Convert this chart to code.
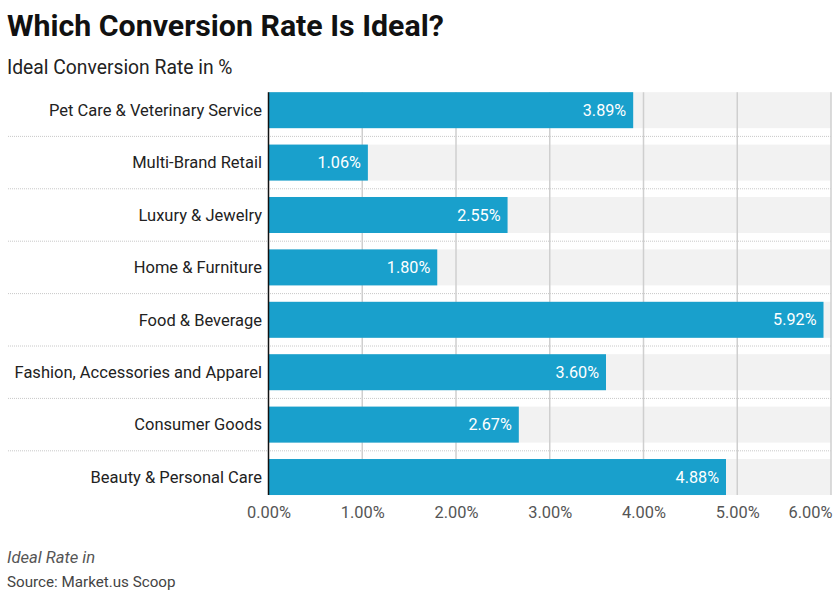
<!DOCTYPE html>
<html>
<head>
<meta charset="utf-8">
<script src="https://cdn.jsdelivr.net/npm/d3@7"></script>
<style>
  body { margin: 0; background: #fff; }
  svg { font-family: Roboto, "Noto Sans", sans-serif; }
</style>
</head>
<body>
<div id="chart"></div>
<script>
const categories = [
  "Pet Care & Veterinary Service",
  "Multi-Brand Retail",
  "Luxury & Jewelry",
  "Home & Furniture",
  "Food & Beverage",
  "Fashion, Accessories and Apparel",
  "Consumer Goods",
  "Beauty & Personal Care",
];
const rates = [3.89, 1.06, 2.55, 1.8, 5.92, 3.6, 2.67, 4.88];
const tickValues = [0, 1, 2, 3, 4, 5, 6];

const width = 840;
const height = 598;
const margin = { top: 84, right: 9, bottom: 95, left: 268.5 };

const svg = d3
  .select("#chart")
  .append("svg")
  .attr("width", width)
  .attr("height", height);

// headings
svg
  .append("text")
  .attr("x", 7)
  .attr("y", 36)
  .attr("font-size", 30.3)
  .attr("font-weight", 700)
  .attr("fill", "#111")
  .text("Which Conversion Rate Is Ideal?");

svg
  .append("text")
  .attr("x", 7)
  .attr("y", 74)
  .attr("font-size", 19.3)
  .attr("fill", "#222")
  .text("Ideal Conversion Rate in %");

const x = d3
  .scaleLinear()
  .domain([0, 6])
  .range([margin.left, width - margin.right]);

const y = d3
  .scaleBand()
  .domain(categories)
  .range([margin.top, height - margin.bottom + 0.2])
  .paddingInner(0.313)
  .paddingOuter(0.156);

const rows = categories.map((c, i) => ({ name: c, value: rates[i] }));
const plotTop = y(categories[0]);
const plotBottom = y(categories[categories.length - 1]) + y.bandwidth();
const gap = y.step() - y.bandwidth();

// gray row bands
svg
  .append("g")
  .selectAll("rect")
  .data(rows)
  .join("rect")
  .attr("x", x(0))
  .attr("y", (d) => y(d.name))
  .attr("width", x(6) - x(0))
  .attr("height", y.bandwidth())
  .attr("fill", "#f2f2f2");

// dotted row separators
svg
  .append("g")
  .selectAll("line")
  .data(rows.slice(0, -1))
  .join("line")
  .attr("x1", 8)
  .attr("x2", x(6))
  .attr("y1", (d) => y(d.name) + y.bandwidth() + gap / 2)
  .attr("y2", (d) => y(d.name) + y.bandwidth() + gap / 2)
  .attr("stroke", "#c8c8c8")
  .attr("stroke-width", 1)
  .attr("stroke-dasharray", "1,1");

// vertical gridlines
svg
  .append("g")
  .selectAll("line")
  .data(tickValues.slice(1))
  .join("line")
  .attr("x1", (d) => x(d))
  .attr("x2", (d) => x(d))
  .attr("y1", plotTop)
  .attr("y2", plotBottom)
  .attr("stroke", "#cfcfcf")
  .attr("stroke-width", 1.5);

// bars
svg
  .append("g")
  .selectAll("rect")
  .data(rows)
  .join("rect")
  .attr("x", x(0))
  .attr("y", (d) => y(d.name))
  .attr("width", (d) => x(d.value) - x(0))
  .attr("height", y.bandwidth())
  .attr("fill", "#19a0cc");

// value labels
svg
  .append("g")
  .selectAll("text")
  .data(rows)
  .join("text")
  .attr("x", (d) => x(d.value) - 7)
  .attr("y", (d) => y(d.name) + y.bandwidth() / 2)
  .attr("dy", "0.35em")
  .attr("text-anchor", "end")
  .attr("font-size", 16.2)
  .attr("fill", "#fff")
  .text((d) => d.value.toFixed(2) + "%");

// category labels
svg
  .append("g")
  .selectAll("text")
  .data(rows)
  .join("text")
  .attr("x", x(0) - 6.5)
  .attr("y", (d) => y(d.name) + y.bandwidth() / 2)
  .attr("dy", "0.35em")
  .attr("text-anchor", "end")
  .attr("font-size", 16.5)
  .attr("fill", "#222")
  .text((d) => d.name);

// axis line
svg
  .append("line")
  .attr("x1", x(0))
  .attr("x2", x(0))
  .attr("y1", plotTop)
  .attr("y2", plotBottom)
  .attr("stroke", "#111")
  .attr("stroke-width", 1.5);

// x axis
const xAxis = svg
  .append("g")
  .attr("transform", `translate(0,${plotBottom})`)
  .call(
    d3
      .axisBottom(x)
      .tickValues(tickValues)
      .tickSize(0)
      .tickPadding(11)
      .tickFormat((d) => d.toFixed(2) + "%")
  );
xAxis.select(".domain").remove();
xAxis
  .selectAll("text")
  .attr("font-family", "Roboto, sans-serif")
  .attr("font-size", 16.4)
  .attr("fill", "#555")
  .attr("text-anchor", (d) => (d === 6 ? "end" : "middle"))
  .attr("dx", (d) => (d === 6 ? 1 : 0));

// footer
svg
  .append("text")
  .attr("x", 7)
  .attr("y", 563)
  .attr("font-size", 16.6)
  .attr("font-style", "italic")
  .attr("fill", "#555")
  .text("Ideal Rate in");

svg
  .append("text")
  .attr("x", 7)
  .attr("y", 587)
  .attr("font-size", 15.2)
  .attr("fill", "#444")
  .text("Source: Market.us Scoop");
</script>
</body>
</html>
